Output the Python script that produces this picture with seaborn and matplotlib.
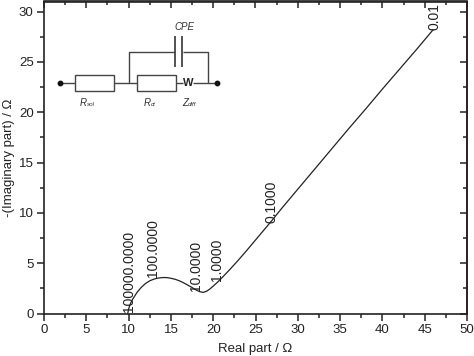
import matplotlib
matplotlib.use('Agg')
import matplotlib.pyplot as plt
from matplotlib.patches import Rectangle
from matplotlib.transforms import Affine2D
import seaborn as sns
import pandas as pd

# Nyquist curve
real_part = [9.9, 10.0, 10.2, 10.5, 11.0, 11.5, 12.0, 12.5, 13.0, 13.5, 14.0, 14.5, 15.0, 15.5, 16.0, 16.5,
             17.0, 17.5, 18.0, 18.4, 18.8, 19.2, 19.6, 20.0, 20.5, 21.0, 22.0, 23.0, 24.0, 25.0, 26.0, 27.0,
             28.0, 30.0, 32.0, 34.0, 36.0, 38.0, 40.0, 42.0, 44.0, 46.0]
imag_part = [0.0, 0.45, 0.95, 1.45, 2.1, 2.6, 2.98, 3.25, 3.42, 3.52, 3.57, 3.57, 3.5, 3.4, 3.25, 3.05,
             2.82, 2.58, 2.33, 2.17, 2.1, 2.2, 2.43, 2.72, 3.1, 3.52, 4.4, 5.33, 6.3, 7.3, 8.3, 9.3,
             10.35, 12.35, 14.35, 16.35, 18.35, 20.3, 22.3, 24.25, 26.2, 28.2]
df = pd.DataFrame({'real': real_part, 'imag': imag_part})

# frequency labels
freq_labels = ['100000.0000', '100.0000', '10.0000', '1.0000', '0.1000', '0.01']
freq_x = [10.0, 12.9, 18.0, 20.5, 26.9, 46.1]
freq_y = [0.1, 3.6, 2.2, 3.2, 9.0, 28.2]

x_ticks = list(range(0, 55, 5))
y_ticks = list(range(0, 35, 5))
x_minor = [v + 2.5 for v in x_ticks[:-1]]
y_minor = [v + 2.5 for v in y_ticks[:-1]]

sns.set_style('ticks')
plt.rcParams['font.family'] = ['Liberation Sans', 'DejaVu Sans']
plt.rcParams['text.color'] = '#222222'

fig, ax = plt.subplots(figsize=(4.74, 3.56), dpi=100)
fig.subplots_adjust(left=44 / 474, right=467 / 474, bottom=1 - 313.5 / 356, top=1 - 1.5 / 356)

sns.lineplot(data=df, x='real', y='imag', ax=ax, color='#222222', linewidth=0.9, sort=False, errorbar=None)

for lab, fx, fy in zip(freq_labels, freq_x, freq_y):
    ax.text(fx, fy, lab, rotation=90, ha='center', va='bottom', fontsize=10, color='#222222', clip_on=True)

ax.set_xticks(x_ticks)
ax.set_yticks(y_ticks)
ax.set_xticks(x_minor, minor=True)
ax.set_yticks(y_minor, minor=True)
ax.set_xlim(0, 50)
ax.set_ylim(0, 31)
ax.tick_params(axis='both', which='major', length=5, width=1.1, labelsize=9.5, color='#222222', labelcolor='#222222', pad=2.5)
ax.tick_params(axis='both', which='minor', length=3, width=1.1, color='#222222')

# inward ticks on top and right, without labels
top = ax.secondary_xaxis('top')
top.set_xticks(x_ticks)
top.set_xticks(x_minor, minor=True)
top.tick_params(axis='x', which='major', direction='in', length=5, width=1.1, labeltop=False, color='#222222')
top.tick_params(axis='x', which='minor', direction='in', length=3, width=1.1, color='#222222')
right = ax.secondary_yaxis('right')
right.set_yticks(y_ticks)
right.set_yticks(y_minor, minor=True)
right.tick_params(axis='y', which='major', direction='in', length=5, width=1.1, labelright=False, color='#222222')
right.tick_params(axis='y', which='minor', direction='in', length=3, width=1.1, color='#222222')

for sp in ax.spines.values():
    sp.set_visible(True)
    sp.set_linewidth(1.2)
    sp.set_color('#222222')
for sec in (top, right):
    for sp in sec.spines.values():
        sp.set_linewidth(1.2)
        sp.set_color('#222222')

ax.set_xlabel('Real part / Ω', fontsize=9.5, labelpad=5, color='#222222')
ax.set_ylabel('-(Imaginary part) / Ω', fontsize=9.5, labelpad=3, color='#222222')

# equivalent circuit inset, placed in image pixels
px = Affine2D().scale(1 / 474, -1 / 356).translate(0, 1) + fig.transFigure
wire = '#444444'

def seg(xs, ys, lw=1.0):
    ax.plot(xs, ys, color=wire, lw=lw, transform=px, clip_on=False, solid_capstyle='butt')

seg([60.5, 75], [83, 83])
seg([114, 137], [83, 83])
seg([176, 183], [83, 83])
seg([193, 217.5], [83, 83])
seg([129, 129, 175], [83, 52, 52])
seg([183, 208, 208], [52, 52, 83])
seg([175.5, 175.5], [36, 67], lw=1.3)
seg([182.5, 182.5], [36, 67], lw=1.3)
for rx, rw in [(75, 39), (137, 39)]:
    ax.add_patch(Rectangle((rx, 75), rw, 16, fill=False, ec=wire, lw=1.0, transform=px))
ax.plot([60.5, 217.5], [83, 83], ls='none', marker='o', ms=3.2, color='#111111', transform=px, clip_on=False)
ax.text(188, 83, 'W', transform=px, ha='center', va='center', fontsize=8, fontweight='bold', color='#222222')
ax.text(184, 26.5, 'CPE', transform=px, ha='center', va='center', fontsize=7, style='italic', color='#333333')
for lx, lab, sub in [(89, 'R', 'sol'), (153, 'R', 'ct'), (190, 'Z', 'diff')]:
    ax.text(lx - 2, 102.5, lab, transform=px, ha='right', va='center', fontsize=7, style='italic', color='#333333')
    ax.text(lx - 2, 105, sub, transform=px, ha='left', va='center', fontsize=4.5, style='italic', color='#333333')

fig.savefig('out.png', dpi=100)
